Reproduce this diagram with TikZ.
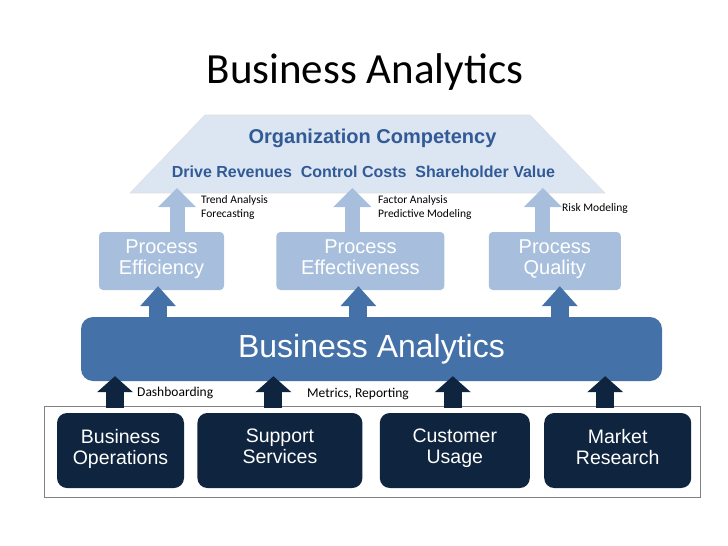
\documentclass[tikz,border=0pt]{standalone}
\usepackage{fontspec}
\setmainfont{Liberation Sans}
\newfontfamily\calibri{Carlito}
\usetikzlibrary{positioning, arrows.meta}
\definecolor{paleblue}{RGB}{220,230,242}
\definecolor{softblue}{RGB}{167,191,220}
\definecolor{midblue}{RGB}{68,114,168}
\definecolor{navydark}{RGB}{15,36,62}
\definecolor{textblue}{RGB}{49,90,150}
\definecolor{framegray}{RGB}{128,128,128}

\begin{document}
\begin{tikzpicture}[
    x=1pt, y=-1pt,
    procbox/.style={
        rectangle,
        fill=softblue,
        rounded corners=4pt,
        minimum height=58pt,
        inner sep=0pt,
        align=center,
        text=white,
        font=\fontsize{20}{21}\selectfont,
        execute at begin node=\rule[-6.3pt]{0pt}{19.5pt},
        execute at end node=\rule[-7.8pt]{0pt}{21pt}
    },
    srcbox/.style={
        rectangle,
        fill=navydark,
        rounded corners=10pt,
        minimum height=75pt,
        inner sep=0pt,
        align=center,
        text=white,
        font=\fontsize{19.5}{21}\selectfont,
        execute at begin node=\rule[-6.3pt]{0pt}{19.5pt},
        execute at end node=\rule[-7.8pt]{0pt}{21pt}
    },
    lbl/.style={
        inner sep=0pt,
        align=left,
        anchor=west
    },
    arrowlight/.style={
        draw=softblue,
        line width=15pt,
        -{Triangle[width=38pt, length=19pt, line width=0pt 0 0]}
    },
    arrowmid/.style={
        draw=midblue,
        line width=18pt,
        -{Triangle[width=36pt, length=20pt, line width=0pt 0 0]}
    },
    arrowdark/.style={
        draw=navydark,
        line width=18pt,
        -{Triangle[width=36pt, length=16pt, line width=0pt 0 0]}
    }
]
\useasboundingbox (0,0) rectangle (728,546);

% Nodes
\node[font=\calibri\fontsize{43}{48}\selectfont, anchor=base] (title) at (365,83) {Business Analytics};

% competency roof
\filldraw[fill=paleblue, draw=black!12, line width=0.6pt] (130,193) -- (205,115) -- (530,115) -- (605,193) -- cycle;
\coordinate (oc) at (367.5,193);
\node[anchor=base, text=textblue, font=\bfseries\fontsize{20}{24}\selectfont] (octitle) at (372.5,143) {Organization Competency};
\node[anchor=base, text=textblue, font=\bfseries\fontsize{16}{19}\selectfont] (ocgoals) at (363.5,177) {Drive Revenues~ Control Costs~ Shareholder Value};

\node[procbox, minimum width=125pt] (peff) at (161.5,261) {Process\\Efficiency};
\node[procbox, minimum width=168pt, right=52pt of peff] (peft) {Process\\Effectiveness};
\node[procbox, minimum width=132pt, right=44pt of peft] (pqual) {Process\\Quality};

\node[rectangle, fill=midblue, rounded corners=12pt, minimum width=581pt, minimum height=64pt,
      text=white, font=\fontsize{32}{36}\selectfont] (ba) at (371.5,349) {Business Analytics};

\node[draw=framegray, line width=0.8pt, minimum width=656pt, minimum height=91pt] (src) at (372,451.5) {};
\node[srcbox, minimum width=127pt] (bo) at (120.5,450.5) {Business\\Operations};
\node[srcbox, minimum width=165pt, right=13pt of bo] (ss) {Support\\Services};
\node[srcbox, minimum width=150pt, right=17pt of ss] (cu) {Customer\\Usage};
\node[srcbox, minimum width=147pt, right=14pt of cu] (mr) {Market\\Research};

% Labels
\node[lbl, font=\calibri\fontsize{11.5}{14}\selectfont] (trend) at (201,207) {Trend Analysis\\Forecasting};
\node[lbl, font=\calibri\fontsize{11.5}{14}\selectfont] (factor) at (378,207) {Factor Analysis\\Predictive Modeling};
\node[lbl, font=\calibri\fontsize{11.5}{14}\selectfont] (risk) at (562,208) {Risk Modeling};
\node[lbl, font=\calibri\fontsize{13.5}{16}\selectfont] (dash) at (137,393) {Dashboarding};
\node[lbl, font=\calibri\fontsize{13.5}{16}\selectfont] (metr) at (307,394) {Metrics, Reporting};

% Process to competency
\draw[arrowlight, shorten >=-5pt] ([xshift=15.5pt]peff.north) -- ([xshift=15.5pt]peff.north |- oc);
\draw[arrowlight, shorten >=-5pt] ([xshift=-8pt]peft.north) -- ([xshift=-8pt]peft.north |- oc);
\draw[arrowlight, shorten >=-5pt] ([xshift=-12pt]pqual.north) -- ([xshift=-12pt]pqual.north |- oc);

% Analytics to process
\draw[arrowmid, shorten <=-4pt, shorten >=-4pt] ([xshift=-3.5pt]peff.south |- ba.north) -- ([xshift=-3.5pt]peff.south);
\draw[arrowmid, shorten <=-4pt, shorten >=-4pt] ([xshift=-2pt]peft.south |- ba.north) -- ([xshift=-2pt]peft.south);
\draw[arrowmid, shorten <=-4pt, shorten >=-4pt] ([xshift=5pt]pqual.south |- ba.north) -- ([xshift=5pt]pqual.south);

% Sources to analytics
\draw[arrowdark, shorten <=5pt, shorten >=-5pt] ([xshift=-5.5pt]bo.north) -- ([xshift=-5.5pt]bo.north |- ba.south);
\draw[arrowdark, shorten <=5pt, shorten >=-5pt] ([xshift=-6.5pt]ss.north) -- ([xshift=-6.5pt]ss.north |- ba.south);
\draw[arrowdark, shorten <=5pt, shorten >=-5pt] ([xshift=-2pt]cu.north) -- ([xshift=-2pt]cu.north |- ba.south);
\draw[arrowdark, shorten <=5pt, shorten >=-5pt] ([xshift=-12.5pt]mr.north) -- ([xshift=-12.5pt]mr.north |- ba.south);

\end{tikzpicture}
\end{document}
